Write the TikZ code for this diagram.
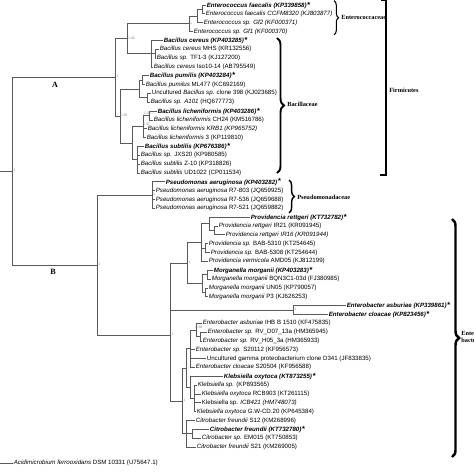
\documentclass[tikz,border=0pt]{standalone}
\usepackage{fontspec}
\setmainfont{Liberation Sans}
\newfontfamily\grpserif{Liberation Serif}
\newfontfamily\symsans{DejaVu Sans}
\usetikzlibrary{decorations.pathreplacing}
\definecolor{TreeGray}{HTML}{5A5A5A}
\definecolor{SupGray}{HTML}{8A8A8A}
\newcommand{\isomark}{\raisebox{1.3pt}{\symsans\fontsize{2.8}{3}\selectfont ★}}

\begin{document}
\begin{tikzpicture}[x=0.02cm,y=-0.02cm,
  branch/.style={draw=TreeGray,line width=0.35pt},
  taxon/.style={anchor=west,inner sep=0.3pt,font=\fontsize{3.5}{4}\selectfont\itshape},
  isolate/.style={taxon,font=\fontsize{3.5}{4}\selectfont\bfseries\itshape},
  supp/.style={inner sep=0pt,font=\fontsize{2}{2}\selectfont,text=SupGray},
  grp/.style={anchor=west,inner sep=0pt,font=\fontsize{3.6}{4}\selectfont\grpserif\bfseries},
  clade/.style={inner sep=0pt,font=\fontsize{4.6}{5}\selectfont\grpserif\bfseries},
  famBrace/.style={decorate,decoration={brace,amplitude=#1}}
]
\useasboundingbox (0,0) rectangle (474,474);

% internal nodes
\coordinate (root0) at (0,171.7);
\coordinate (root) at (12,171.7);
\coordinate (A) at (115,77.4);
\coordinate (B) at (97,265);
\coordinate (N1) at (127,38.7);
\coordinate (Ent) at (189,23.8);
\coordinate (Ent2) at (197,16.1);
\coordinate (Ent3) at (202,9.4);
\coordinate (Cer) at (151,53.6);
\coordinate (Cer2) at (155,53.6);
\coordinate (N2) at (120,116);
\coordinate (Pum) at (139,89);
\coordinate (Pum1) at (142,80.2);
\coordinate (Pum2) at (147,97.8);
\coordinate (Q) at (132,143.1);
\coordinate (Lic) at (143,126.6);
\coordinate (Lic2) at (149,115.5);
\coordinate (Sub) at (137,159.7);
\coordinate (Ps) at (152,195);
\coordinate (E) at (170,335);
\coordinate (PM) at (187,263);
\coordinate (Prov) at (201,242.6);
\coordinate (Ret1) at (209,223.8);
\coordinate (Ret2) at (214,230.4);
\coordinate (Prov2) at (205,248.1);
\coordinate (Morg) at (202,283.5);
\coordinate (Morg1) at (207,274.6);
\coordinate (Morg2) at (205,292.3);
\coordinate (EC) at (293,310);
\coordinate (EKC) at (182,400.9);
\coordinate (EKG) at (186,368);
\coordinate (Entb) at (190,348.6);
\coordinate (Asb) at (196,329.9);
\coordinate (RV) at (200,336.5);
\coordinate (Kleb) at (190,387.3);
\coordinate (Kleb2) at (194,398.4);
\coordinate (Citro) at (186,433.8);
\coordinate (Citro2) at (192,433.8);
\coordinate (og) at (0,463);

% Firmicutes
\node[isolate] (l1) at (206,5) {Enterococcus faecalis (KP339858)\isomark};
\node[taxon] (l2) at (205,13.8) {Enterococcus faecalis CCFM8320 (KJ803877)};
\node[taxon] (l3) at (203,22.7) {Enterococcus sp. Gf2 (KF000371)};
\node[taxon] (l4) at (193,31.5) {Enterococcus sp. Gf1 (KF000370)};
\node[isolate] (l5) at (163,40.4) {Bacillus cereus (KP403285)\isomark};
\node[taxon] (l6) at (159,49.2) {Bacillus cereus {\upshape MHS (KR132556)}};
\node[taxon] (l7) at (156,58) {Bacillus sp. {\upshape TF1-3 (KJ127200)}};
\node[taxon] (l8) at (153,66.9) {Bacillus cereus {\upshape Iso10-14 (AB795549)}};
\node[isolate] (l9) at (149,75.7) {Bacillus pumilis (KP403284)\isomark};
\node[taxon] (l10) at (145,84.6) {Bacillus pumilus {\upshape ML477 (KC692169)}};
\node[taxon] (l11) at (151,93.4) {{\upshape Uncultured} Bacillus sp. {\upshape clone 398 (KJ023685)}};
\node[taxon] (l12) at (150,102.2) {Bacillus sp. A101 {\upshape (HQ677773)}};
\node[isolate] (l13) at (157,111.1) {Bacillus licheniformis (KP403286)\isomark};
\node[taxon] (l14) at (153,119.9) {Bacillus licheniformis {\upshape CH24 (KM516786)}};
\node[taxon] (l15) at (147,128.8) {Bacillus licheniformis KRB1 (KP965752)};
\node[taxon] (l16) at (146,137.6) {Bacillus licheniformis {\upshape 3 (KP119810)}};
\node[isolate] (l17) at (144,146.4) {Bacillus subtilis (KP676386)\isomark};
\node[taxon] (l18) at (140,155.3) {Bacillus sp. {\upshape JXS20 (KP980585)}};
\node[taxon] (l19) at (140,164.1) {Bacillus subtilis {\upshape Z-10 (KP318826)}};
\node[taxon] (l20) at (140,173) {Bacillus subtilis {\upshape UD1022 (CP011534)}};

% Pseudomonadaceae
\node[isolate] (l21) at (165,181.8) {Pseudomonas aeruginosa (KP403282)\isomark};
\node[taxon] (l22) at (155,190.6) {Pseudomonas aeruginosa {\upshape R7-803 (JQ659925)}};
\node[taxon] (l23) at (155,199.5) {Pseudomonas aeruginosa {\upshape R7-536 (JQ659688)}};
\node[taxon] (l24) at (155,208.3) {Pseudomonas aeruginosa {\upshape R7-521 (JQ659882)}};

% Enterobacteriaceae
\node[isolate] (l25) at (250,217.2) {Providencia rettgeri (KT732782)\isomark};
\node[taxon] (l26) at (218,226) {Providencia rettgeri {\upshape IR21 (KR091945)}};
\node[taxon] (l27) at (225,234.8) {Providencia rettgeri IR16 (KR091944)};
\node[taxon] (l28) at (208,243.7) {Providencia sp. {\upshape BAB-5310 (KT254645)}};
\node[taxon] (l29) at (210,252.5) {Providencia sp. {\upshape BAB-5308 (KT254644)}};
\node[taxon] (l30) at (208,261.4) {Providencia vermicola {\upshape AMD05 (KJ812199)}};
\node[isolate] (l31) at (213,270.2) {Morganella morganii (KP403283)\isomark};
\node[taxon] (l32) at (211,279) {Morganella morganii {\upshape BQN3C1-03d (FJ380985)}};
\node[taxon] (l33) at (208,287.9) {Morganella morganii {\upshape UN05 (KP790057)}};
\node[taxon] (l34) at (208,296.7) {Morganella morganii {\upshape P3 (KJ626253)}};
\node[isolate] (l35) at (346,305.6) {Enterobacter asburiae (KP339861)\isomark};
\node[isolate] (l36) at (328,314.4) {Enterobacter cloacae (KP823456)\isomark};
\node[taxon] (l37) at (202,323.2) {Enterobacter asburiae {\upshape IHB B 1510 (KF475835)}};
\node[taxon] (l38) at (207,332.1) {Enterobacter sp. {\upshape RV\_D07\_13a (HM365945)}};
\node[taxon] (l39) at (202,340.9) {Enterobacter sp. {\upshape RV\_H05\_3a (HM365933)}};
\node[taxon] (l40) at (195,349.8) {Enterobacter sp. {\upshape S20112 (KF956573)}};
\node[taxon] (l41) at (206,358.6) {{\upshape Uncultured gamma proteobacterium clone D341 (JF833835)}};
\node[taxon] (l42) at (195,367.4) {Enterobacter cloacae {\upshape S20504 (KF956588)}};
\node[isolate] (l43) at (223,376.3) {Klebsiella oxytoca (KT873255)\isomark};
\node[taxon] (l44) at (197,385.1) {Klebsiella sp. {\upshape (KP893565)}};
\node[taxon] (l45) at (201,394) {Klebsiella oxytoca {\upshape RCB903 (KT261115)}};
\node[taxon] (l46) at (201,402.8) {{\upshape Klebsiella sp.} ICB421 (HM748073)};
\node[taxon] (l47) at (196,411.6) {Klebsiella oxytoca {\upshape G.W-CD.20 (KP645384)}};
\node[taxon] (l48) at (195,420.5) {Citrobacter freundii {\upshape S12 (KM268996)}};
\node[isolate] (l49) at (209,429.3) {Citrobacter freundii (KT732780)\isomark};
\node[taxon] (l50) at (201,438.2) {Citrobacter sp. {\upshape EM015 (KT750853)}};
\node[taxon] (l51) at (196,447) {Citrobacter freundii {\upshape S21 (KM269005)}};
\node[taxon] (l52) at (13,463) {Acidimicrobium ferrooxidans {\upshape DSM 10331 (U75647.1)}};

% branches
\draw[branch] (root0) -- (root) (root) |- (A) (root) |- (B);
\draw[branch] (A) |- (N1) (A) |- (N2);
\draw[branch] (N1) |- (Ent) (N1) |- (Cer);
\draw[branch] (Ent) |- (Ent2) (Ent) |- (l4.west) (Ent2) |- (Ent3) (Ent2) |- (l3.west)
  (Ent3) |- (l1.west) (Ent3) |- (l2.west);
\draw[branch] (Cer) |- (l5.west) (Cer) |- (Cer2) (Cer) |- (l8.west)
  (Cer2) |- (l6.west) (Cer2) |- (l7.west);
\draw[branch] (N2) |- (Pum) (N2) |- (Q) (Pum) |- (Pum1) (Pum) |- (Pum2)
  (Pum1) |- (l9.west) (Pum1) |- (l10.west) (Pum2) |- (l11.west) (Pum2) |- (l12.west);
\draw[branch] (Q) |- (Lic) (Q) |- (Sub) (Lic) |- (Lic2) (Lic) |- (l15.west) (Lic) |- (l16.west)
  (Lic2) |- (l13.west) (Lic2) |- (l14.west);
\draw[branch] (Sub) |- (l17.west) (Sub) |- (l18.west) (Sub) |- (l19.west) (Sub) |- (l20.west);
\draw[branch] (B) |- (Ps) (B) |- (E);
\draw[branch] (Ps) |- (l21.west) (Ps) |- (l22.west) (Ps) |- (l23.west) (Ps) |- (l24.west);
\draw[branch] (E) |- (PM) (E) |- (EC) (E) |- (EKC);
\draw[branch] (PM) |- (Prov) (PM) |- (Morg);
\draw[branch] (Prov) |- (Ret1) (Prov) |- (Prov2) (Prov) |- (l30.west)
  (Ret1) |- (l25.west) (Ret1) |- (Ret2) (Ret2) |- (l26.west) (Ret2) |- (l27.west)
  (Prov2) |- (l28.west) (Prov2) |- (l29.west);
\draw[branch] (Morg) |- (Morg1) (Morg) |- (Morg2) (Morg1) |- (l31.west) (Morg1) |- (l32.west)
  (Morg2) |- (l33.west) (Morg2) |- (l34.west);
\draw[branch] (EC) |- (l35.west) (EC) |- (l36.west);
\draw[branch] (EKC) |- (EKG) (EKC) |- (Citro) (EKG) |- (Entb) (EKG) |- (Kleb);
\draw[branch] (Entb) |- (Asb) (Entb) |- (l40.west) (Entb) |- (l41.west) (Entb) |- (l42.west)
  (Asb) |- (l37.west) (Asb) |- (RV) (RV) |- (l38.west) (RV) |- (l39.west);
\draw[branch] (Kleb) |- (l43.west) (Kleb) |- (Kleb2) (Kleb2) |- (l44.west) (Kleb2) |- (l45.west)
  (Kleb2) |- (l46.west) (Kleb2) |- (l47.west);
\draw[branch] (Citro) |- (l48.west) (Citro) |- (Citro2) (Citro) |- (l51.west)
  (Citro2) |- (l49.west) (Citro2) |- (l50.west);
\draw[branch] (og) -- (l52.west);

% support values
\node[supp] (s0) at (14.5,170.5) {1};
\node[supp] (sA) at (117.5,76.5) {1};
\node[supp] (sN1) at (131.5,38) {1.00};
\node[supp] (sN2) at (124,115.3) {0.95};
\node[supp] (sEnt) at (191,22.8) {1};
\node[supp] (sLic2) at (147.5,113.5) {1.00};
\node[supp] (sLic) at (146.5,124.5) {0.47};
\node[supp] (sB) at (99.5,264) {1};
\node[supp] (sPs) at (154,194) {1};
\node[supp] (sE) at (172.5,334) {1};
\node[supp] (sPM) at (189.5,262) {1};
\node[supp] (sEC) at (295.5,309) {1};
\node[supp] (sAsb) at (199,327.5) {0.88};
\node[supp] (sEKC) at (184.5,400) {1};

% clades
\node[clade] (cA) at (55,85) {A};
\node[clade] (cB) at (53,272) {B};

% families
\draw[famBrace=2.6pt,line width=0.6pt] (334,0.5) -- (334,35);
\node[grp] (fEnt) at (341,17.5) {Enterococcaceae};
\draw[famBrace=4pt,line width=1.1pt] (277,38) -- (277,173);
\node[grp] (fBac) at (287,104) {Bacillaceae};
\draw[famBrace=3pt,line width=0.8pt] (289,180) -- (289,213);
\node[grp] (fPse) at (297,197) {Pseudomonadaceae};
\draw[line width=0.9pt] (381,0.4) -- (386,0.4) -- (386,175) -- (380,175);
\node[grp] (fFir) at (389,90) {Firmicutes};
\draw[famBrace=4pt,line width=1.4pt] (452,219) -- (452,457);
\node[grp,align=left,font=\fontsize{3.6}{4.4}\selectfont\grpserif\bfseries] (fEnb) at (461,337) {Entero\\bacteriaceae};
\end{tikzpicture}
\end{document}
